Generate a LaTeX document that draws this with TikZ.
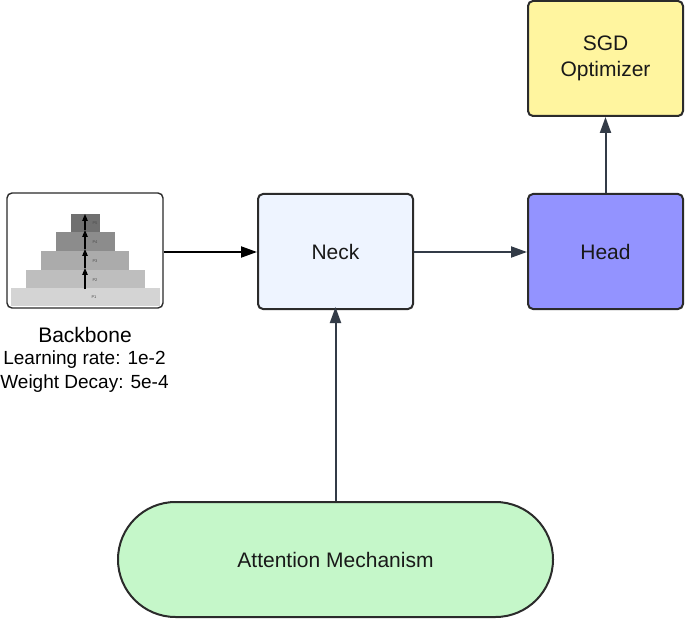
\documentclass[tikz,border=0pt]{standalone}
\usepackage{fontspec}
\setmainfont{Liberation Sans}
\usetikzlibrary{arrows.meta}
\definecolor{neckc}{HTML}{EEF4FF}
\definecolor{headc}{HTML}{9393FF}
\definecolor{sgdc}{HTML}{FFF59F}
\definecolor{attc}{HTML}{C5F7C9}
\definecolor{edgec}{HTML}{2B2B2B}
\definecolor{arrc}{HTML}{333B47}
\definecolor{pa}{HTML}{D4D4D4}
\definecolor{pb}{HTML}{BEBEBE}
\definecolor{pc}{HTML}{ABABAB}
\definecolor{pd}{HTML}{8C8C8C}
\definecolor{pe}{HTML}{707070}
\tikzset{
  blk/.style={draw=edgec, line width=2pt, rounded corners=5pt, minimum width=155pt, minimum height=115pt, inner sep=0pt, font=\fontsize{21}{26}\selectfont, align=center, text=black!90},
  conn/.style={draw=arrc, line width=2pt, -{Triangle[length=16pt,width=11pt]}},
  plab/.style={font=\fontsize{4}{4}\selectfont, inner sep=0pt, text=black!70},
  parr/.style={line width=1.1pt, -{Triangle[length=7pt,width=5.5pt]}}
}
\begin{document}
\begin{tikzpicture}[x=1pt,y=-1pt]
\useasboundingbox[fill=white] (0,0) rectangle (685,620);
% main blocks
\node[blk, fill=sgdc] (sgd) at (605.5,58.5) {SGD\\Optimizer};
\node[blk, fill=headc] (head) at (605.5,251.5) {Head};
\node[blk, fill=neckc] (neck) at (335.5,251.5) {Neck};
\node[draw=edgec, line width=2pt, rounded corners=57.5pt, minimum width=435pt, minimum height=115pt, fill=attc, font=\fontsize{21}{26}\selectfont, text=black!90] (att) at (335.5,559.5) {Attention Mechanism};
% backbone image
\node[draw=edgec, line width=1.4pt, rounded corners=5pt, minimum width=156pt, minimum height=115pt, fill=white, inner sep=0pt] (bb) at (85,250.5) {};
\fill[pa] (11,288) rectangle (160,306);
\fill[pb] (26,270) rectangle (145,288);
\fill[pc] (41,251) rectangle (129,270);
\fill[pd] (56,232) rectangle (115,251);
\fill[pe] (71,214) rectangle (100,232);
\node[plab] (l1) at (94,297) {P1};
\node[plab] (l2) at (95,280) {P2};
\node[plab] (l3) at (95,261) {P3};
\node[plab] (l4) at (95,242) {P4};
\node[plab] (l5) at (95,223) {P5};
\coordinate (a0) at (85,289);
\coordinate (a1) at (85,268);
\coordinate (a2) at (85,249);
\coordinate (a3) at (85,230);
\coordinate (a4) at (85,214);
\draw[parr] (a0) -- (a1);
\draw[parr] (a1) -- (a2);
\draw[parr] (a2) -- (a3);
\draw[parr] (a3) -- (a4);
% backbone text
\node[font=\fontsize{21}{24}\selectfont, inner sep=0pt, anchor=base] (bbt) at (85,342) {Backbone};
\node[font=\fontsize{19}{24}\selectfont, inner sep=0pt, anchor=base] (lr) at (84.5,364) {Learning rate: 1e-2};
\node[font=\fontsize{19}{24}\selectfont, inner sep=0pt, anchor=base] (wd) at (84.5,388) {Weight Decay: 5e-4};
% connectors
\draw[conn, draw=black] (bb.east |- 0,252) -- (neck.west |- 0,252);
\draw[conn] (neck.east |- 0,252) -- (head.west |- 0,252);
\draw[conn] (head.north) -- (sgd.south);
\draw[conn] (att.north) -- ([yshift=3pt]neck.south);
\end{tikzpicture}
\end{document}
